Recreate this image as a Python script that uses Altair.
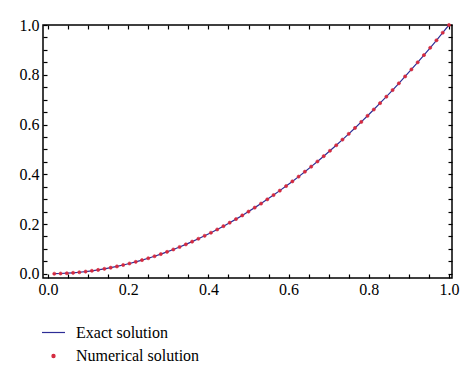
import altair as alt
import pandas as pd

# x nodes and values
x_vals = [0.0156, 0.0313, 0.0469, 0.0625, 0.0781, 0.0938, 0.1094, 0.1250,
          0.1406, 0.1563, 0.1719, 0.1875, 0.2031, 0.2188, 0.2344, 0.2500,
          0.2656, 0.2813, 0.2969, 0.3125, 0.3281, 0.3438, 0.3594, 0.3750,
          0.3906, 0.4063, 0.4219, 0.4375, 0.4531, 0.4688, 0.4844, 0.5000,
          0.5156, 0.5313, 0.5469, 0.5625, 0.5781, 0.5938, 0.6094, 0.6250,
          0.6406, 0.6563, 0.6719, 0.6875, 0.7031, 0.7188, 0.7344, 0.7500,
          0.7656, 0.7813, 0.7969, 0.8125, 0.8281, 0.8438, 0.8594, 0.8750,
          0.8906, 0.9063, 0.9219, 0.9375, 0.9531, 0.9688, 0.9844, 1.0000]
y_exact = [0.0002, 0.0010, 0.0022, 0.0039, 0.0061, 0.0088, 0.0120, 0.0156,
           0.0198, 0.0244, 0.0295, 0.0352, 0.0413, 0.0479, 0.0549, 0.0625,
           0.0706, 0.0791, 0.0881, 0.0977, 0.1077, 0.1182, 0.1292, 0.1406,
           0.1526, 0.1650, 0.1780, 0.1914, 0.2053, 0.2197, 0.2346, 0.2500,
           0.2659, 0.2822, 0.2991, 0.3164, 0.3342, 0.3525, 0.3713, 0.3906,
           0.4104, 0.4307, 0.4514, 0.4727, 0.4944, 0.5166, 0.5393, 0.5625,
           0.5862, 0.6104, 0.6350, 0.6602, 0.6858, 0.7119, 0.7385, 0.7656,
           0.7932, 0.8213, 0.8499, 0.8789, 0.9084, 0.9385, 0.9690, 1.0000]
y_numerical = [0.0002, 0.0010, 0.0022, 0.0039, 0.0061, 0.0088, 0.0120, 0.0156,
               0.0198, 0.0244, 0.0295, 0.0352, 0.0413, 0.0479, 0.0549, 0.0625,
               0.0706, 0.0791, 0.0881, 0.0977, 0.1077, 0.1182, 0.1292, 0.1406,
               0.1526, 0.1650, 0.1780, 0.1914, 0.2053, 0.2197, 0.2346, 0.2500,
               0.2659, 0.2822, 0.2991, 0.3164, 0.3342, 0.3525, 0.3713, 0.3906,
               0.4104, 0.4307, 0.4514, 0.4727, 0.4944, 0.5166, 0.5393, 0.5625,
               0.5862, 0.6104, 0.6350, 0.6602, 0.6858, 0.7119, 0.7385, 0.7656,
               0.7932, 0.8213, 0.8499, 0.8789, 0.9084, 0.9385, 0.9690, 1.0000]
series_names = ["Exact solution", "Numerical solution"]
tick_vals = [0.0, 0.05, 0.1, 0.15, 0.2, 0.25, 0.3, 0.35, 0.4, 0.45, 0.5,
             0.55, 0.6, 0.65, 0.7, 0.75, 0.8, 0.85, 0.9, 0.95, 1.0]

df_exact = pd.DataFrame({"x": x_vals, "y": y_exact, "series": series_names[0]})
df_num = pd.DataFrame({"x": x_vals, "y": y_numerical, "series": series_names[1]})

FONT = "Liberation Serif"
LINE_COLOR = "#2d2d96"
DOT_COLOR = "#d42a3f"

xscale = alt.Scale(domain=[-0.0125, 1.0075], nice=False, zero=False)
yscale = alt.Scale(domain=[-0.017, 1.0], nice=False, zero=False)

label_expr = ("abs(datum.value*5 - round(datum.value*5)) < 0.001 ? "
              "format(datum.value, '.1f') : ''")

common = dict(values=tick_vals, tickSize=4, offset=-4, domain=False,
              grid=False, tickColor="black", tickWidth=1.2, title=None,
              labelFont=FONT, labelFontSize=16, labelColor="black")

x_bottom = alt.Axis(orient="bottom", labelExpr=label_expr, labelPadding=3,
                    labelFlush=False, labelOverlap=False, **common)
y_left = alt.Axis(orient="left", labelExpr=label_expr, labelPadding=4,
                  labelOverlap=False, **common)
x_top = alt.Axis(orient="top", labels=False, **common)
y_right = alt.Axis(orient="right", labels=False, **common)

stroke_scale = alt.Scale(domain=series_names, range=[LINE_COLOR, DOT_COLOR])
fill_scale = alt.Scale(domain=series_names, range=[LINE_COLOR, DOT_COLOR])
shape_scale = alt.Scale(domain=series_names, range=["stroke", "circle"])
size_scale = alt.Scale(domain=series_names, range=[529, 10])

legend = alt.Legend(title=None, orient="none", legendX=-2, legendY=295,
                    labelFont=FONT, labelFontSize=16, labelColor="black",
                    labelOffset=10, padding=0, rowPadding=7,
                    symbolStrokeWidth=1.2)

line = alt.Chart(df_exact).mark_line(strokeWidth=1.2).encode(
    x=alt.X("x:Q", scale=xscale, axis=x_bottom),
    y=alt.Y("y:Q", scale=yscale, axis=y_left),
    stroke=alt.Stroke("series:N", scale=stroke_scale, legend=legend),
)

points = alt.Chart(df_num).mark_point(filled=True, opacity=1, strokeWidth=0.6).encode(
    x=alt.X("x:Q", scale=xscale, axis=x_top),
    y=alt.Y("y:Q", scale=yscale, axis=y_right),
    stroke=alt.Stroke("series:N", scale=stroke_scale, legend=legend),
    fill=alt.Fill("series:N", scale=fill_scale, legend=legend),
    shape=alt.Shape("series:N", scale=shape_scale, legend=legend),
    size=alt.Size("series:N", scale=size_scale, legend=legend),
)

chart = alt.layer(line, points).resolve_axis(
    x="independent", y="independent"
).properties(
    width=409, height=253,
    autosize=alt.AutoSizeParams(type="none"),
    padding={"left": 35, "top": 17, "right": 14, "bottom": 100},
    background="white",
).configure_view(stroke="black", strokeWidth=1.5)

chart.save("out.html", embed_options={"renderer": "svg", "actions": False})
